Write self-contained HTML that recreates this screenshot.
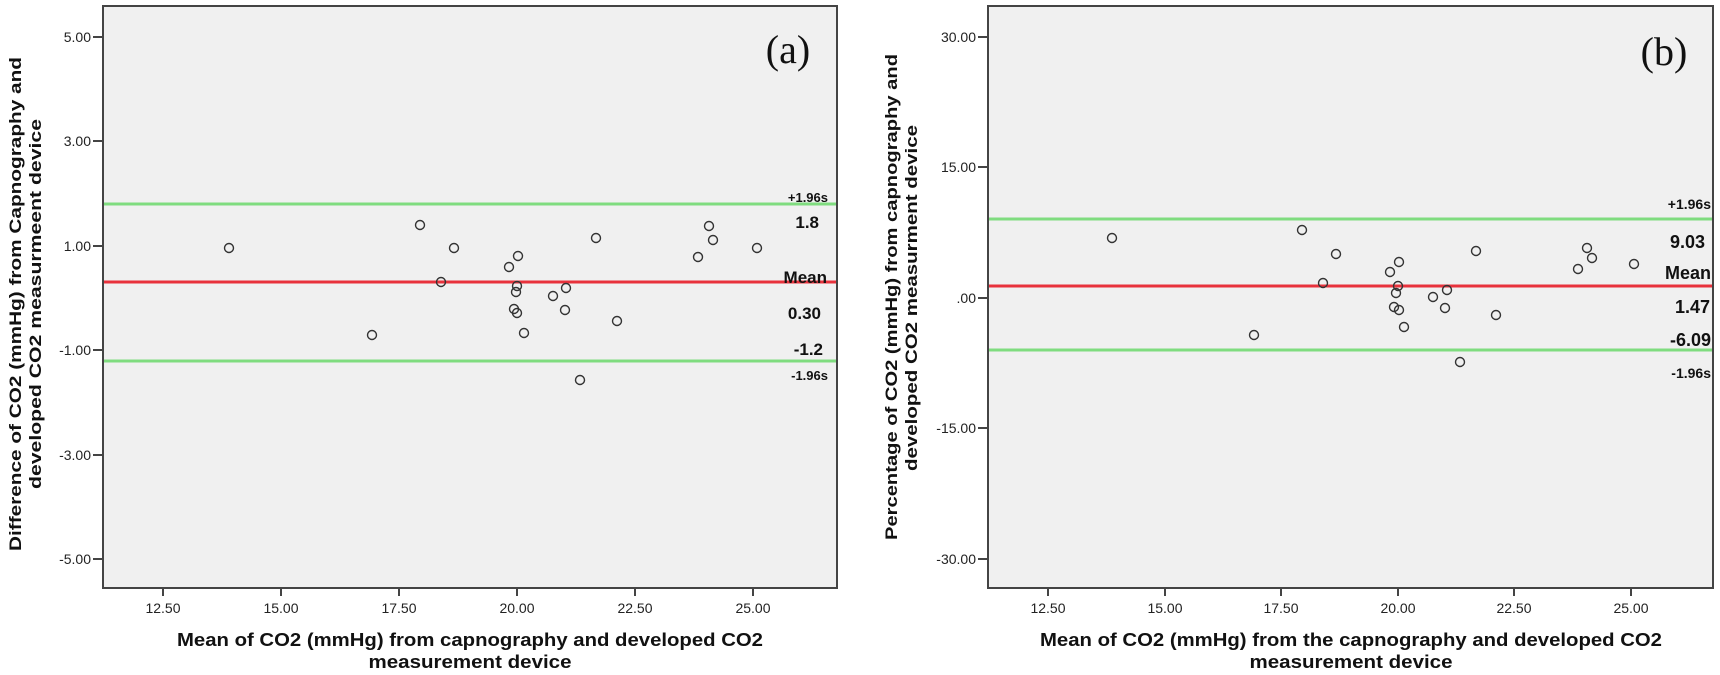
<!DOCTYPE html>
<html><head><meta charset="utf-8"><style>
html,body{margin:0;padding:0;background:#fff;}
svg{display:block;font-family:"Liberation Sans",Arial,sans-serif;}
</style></head><body>
<svg width="1720" height="675" viewBox="0 0 1720 675" xmlns="http://www.w3.org/2000/svg">
<!-- LEFT PLOT -->
<rect x="103" y="6" width="734" height="582" fill="#f0f0f0" stroke="#444" stroke-width="2"/>
<g stroke="#444" stroke-width="2">
<line x1="93" y1="37" x2="103" y2="37"/><line x1="93" y1="141" x2="103" y2="141"/><line x1="93" y1="246" x2="103" y2="246"/>
<line x1="93" y1="350" x2="103" y2="350"/><line x1="93" y1="455" x2="103" y2="455"/><line x1="93" y1="559" x2="103" y2="559"/>
<line x1="163" y1="588" x2="163" y2="596"/><line x1="281" y1="588" x2="281" y2="596"/><line x1="399" y1="588" x2="399" y2="596"/>
<line x1="517" y1="588" x2="517" y2="596"/><line x1="635" y1="588" x2="635" y2="596"/><line x1="753" y1="588" x2="753" y2="596"/>
</g>
<g font-size="14" fill="#222" text-anchor="end">
<text x="91" y="42">5.00</text><text x="91" y="146">3.00</text><text x="91" y="251">1.00</text>
<text x="91" y="355">-1.00</text><text x="91" y="460">-3.00</text><text x="91" y="564">-5.00</text>
</g>
<g font-size="14" fill="#222" text-anchor="middle">
<text x="163" y="613">12.50</text><text x="281" y="613">15.00</text><text x="399" y="613">17.50</text>
<text x="517" y="613">20.00</text><text x="635" y="613">22.50</text><text x="753" y="613">25.00</text>
</g>
<line x1="104" y1="204" x2="836" y2="204" stroke="#7fdc7f" stroke-width="3"/>
<line x1="104" y1="361" x2="836" y2="361" stroke="#7fdc7f" stroke-width="3"/>
<line x1="104" y1="282" x2="836" y2="282" stroke="#e8323c" stroke-width="3"/>
<g fill="none" stroke="#333" stroke-width="1.4">
<circle cx="229" cy="248" r="4.5"/><circle cx="420" cy="225" r="4.5"/><circle cx="454" cy="248" r="4.5"/>
<circle cx="441" cy="282" r="4.5"/><circle cx="372" cy="335" r="4.5"/><circle cx="509" cy="267" r="4.5"/>
<circle cx="518" cy="256" r="4.5"/><circle cx="517" cy="286" r="4.5"/><circle cx="516" cy="292" r="4.5"/>
<circle cx="514" cy="309" r="4.5"/><circle cx="517" cy="313" r="4.5"/><circle cx="524" cy="333" r="4.5"/>
<circle cx="553" cy="296" r="4.5"/><circle cx="566" cy="288" r="4.5"/><circle cx="565" cy="310" r="4.5"/>
<circle cx="596" cy="238" r="4.5"/><circle cx="617" cy="321" r="4.5"/><circle cx="580" cy="380" r="4.5"/>
<circle cx="698" cy="257" r="4.5"/><circle cx="709" cy="226" r="4.5"/><circle cx="713" cy="240" r="4.5"/>
<circle cx="757" cy="248" r="4.5"/>
</g>
<g font-weight="bold" fill="#111" text-anchor="end">
<text x="828" y="202" font-size="13">+1.96s</text>
<text x="819" y="228" font-size="17">1.8</text>
<text x="827" y="283" font-size="17">Mean</text>
<text x="821" y="319" font-size="17">0.30</text>
<text x="823" y="355" font-size="17">-1.2</text>
<text x="828" y="380" font-size="13">-1.96s</text>
</g>
<text x="788" y="63" font-size="40" font-family="Liberation Serif,serif" text-anchor="middle" fill="#111">(a)</text>
<g font-weight="bold" font-size="18" fill="#111" text-anchor="middle">
<text x="470" y="646" textLength="586" lengthAdjust="spacingAndGlyphs">Mean of CO2 (mmHg) from capnography and developed CO2</text>
<text x="470" y="668" textLength="203" lengthAdjust="spacingAndGlyphs">measurement device</text>
</g>
<g font-weight="bold" font-size="17" fill="#111" text-anchor="middle">
<text transform="translate(21,304) rotate(-90)" textLength="494" lengthAdjust="spacingAndGlyphs">Difference of CO2 (mmHg) from Capnography and</text>
<text transform="translate(41,304) rotate(-90)" textLength="370" lengthAdjust="spacingAndGlyphs">developed CO2 measurmeent device</text>
</g>

<!-- RIGHT PLOT -->
<rect x="988" y="6" width="725" height="582" fill="#f0f0f0" stroke="#444" stroke-width="2"/>
<g stroke="#444" stroke-width="2">
<line x1="978" y1="37" x2="988" y2="37"/><line x1="978" y1="167" x2="988" y2="167"/><line x1="978" y1="298" x2="988" y2="298"/>
<line x1="978" y1="428" x2="988" y2="428"/><line x1="978" y1="559" x2="988" y2="559"/>
<line x1="1048" y1="588" x2="1048" y2="596"/><line x1="1165" y1="588" x2="1165" y2="596"/><line x1="1281" y1="588" x2="1281" y2="596"/>
<line x1="1398" y1="588" x2="1398" y2="596"/><line x1="1514" y1="588" x2="1514" y2="596"/><line x1="1631" y1="588" x2="1631" y2="596"/>
</g>
<g font-size="14" fill="#222" text-anchor="end">
<text x="976" y="42">30.00</text><text x="976" y="172">15.00</text><text x="976" y="303">.00</text>
<text x="976" y="433">-15.00</text><text x="976" y="564">-30.00</text>
</g>
<g font-size="14" fill="#222" text-anchor="middle">
<text x="1048" y="613">12.50</text><text x="1165" y="613">15.00</text><text x="1281" y="613">17.50</text>
<text x="1398" y="613">20.00</text><text x="1514" y="613">22.50</text><text x="1631" y="613">25.00</text>
</g>
<line x1="989" y1="219" x2="1712" y2="219" stroke="#7fdc7f" stroke-width="3"/>
<line x1="989" y1="350" x2="1712" y2="350" stroke="#7fdc7f" stroke-width="3"/>
<line x1="989" y1="286" x2="1712" y2="286" stroke="#e8323c" stroke-width="3"/>
<g fill="none" stroke="#333" stroke-width="1.4">
<circle cx="1112" cy="238" r="4.5"/><circle cx="1302" cy="230" r="4.5"/><circle cx="1336" cy="254" r="4.5"/>
<circle cx="1323" cy="283" r="4.5"/><circle cx="1254" cy="335" r="4.5"/><circle cx="1390" cy="272" r="4.5"/>
<circle cx="1399" cy="262" r="4.5"/><circle cx="1398" cy="286" r="4.5"/><circle cx="1396" cy="293" r="4.5"/>
<circle cx="1394" cy="307" r="4.5"/><circle cx="1399" cy="310" r="4.5"/><circle cx="1404" cy="327" r="4.5"/>
<circle cx="1433" cy="297" r="4.5"/><circle cx="1447" cy="290" r="4.5"/><circle cx="1445" cy="308" r="4.5"/>
<circle cx="1476" cy="251" r="4.5"/><circle cx="1496" cy="315" r="4.5"/><circle cx="1460" cy="362" r="4.5"/>
<circle cx="1578" cy="269" r="4.5"/><circle cx="1587" cy="248" r="4.5"/><circle cx="1592" cy="258" r="4.5"/>
<circle cx="1634" cy="264" r="4.5"/>
</g>
<g font-weight="bold" fill="#111" text-anchor="end">
<text x="1711" y="209" font-size="14">+1.96s</text>
<text x="1705" y="248" font-size="18">9.03</text>
<text x="1711" y="279" font-size="18">Mean</text>
<text x="1710" y="313" font-size="18">1.47</text>
<text x="1711" y="346" font-size="18">-6.09</text>
<text x="1711" y="378" font-size="14">-1.96s</text>
</g>
<text x="1664" y="65" font-size="40" font-family="Liberation Serif,serif" text-anchor="middle" fill="#111">(b)</text>
<g font-weight="bold" font-size="18" fill="#111" text-anchor="middle">
<text x="1351" y="646" textLength="622" lengthAdjust="spacingAndGlyphs">Mean of CO2 (mmHg) from the capnography and developed CO2</text>
<text x="1351" y="668" textLength="203" lengthAdjust="spacingAndGlyphs">measurement device</text>
</g>
<g font-weight="bold" font-size="17" fill="#111" text-anchor="middle">
<text transform="translate(897,297) rotate(-90)" textLength="486" lengthAdjust="spacingAndGlyphs">Percentage of CO2 (mmHg) from capnography and</text>
<text transform="translate(917,298) rotate(-90)" textLength="346" lengthAdjust="spacingAndGlyphs">developed CO2 measurment device</text>
</g>
</svg>
</body></html>
